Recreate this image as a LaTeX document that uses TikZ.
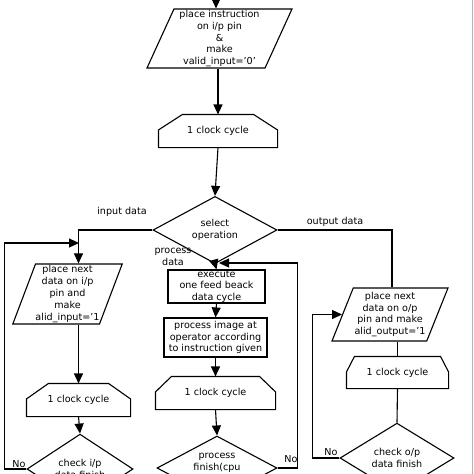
\documentclass[tikz,border=0pt]{standalone}
\usepackage{fontspec}
\setmainfont{DejaVu Sans}
\usetikzlibrary{shapes, arrows.meta}

\begin{document}
\begin{tikzpicture}[x=1pt, y=-1pt, line width=1.1pt,
  >={Triangle[length=10pt, width=9pt]},
  every node/.style={font=\fontsize{9.6}{11.8}\selectfont, align=center, inner sep=0pt},
  iobox/.style={draw, trapezium, trapezium stretches body},
  cyclebox/.style={rectangle},
  choice/.style={draw, diamond},
  procbox/.style={draw, rectangle}]

\useasboundingbox (0,0) rectangle (474,474);
\clip (0,0) rectangle (474,474);

% main column
\node[iobox, trapezium left angle=64.6, trapezium right angle=115.4,
  minimum width=145, minimum height=59] (par0) at (219.5,38.5)
  {place instruction\\on i/p pin\\\&\\make\\valid\_input='0'};
\node[cyclebox, minimum width=118, minimum height=32] (hex0) at (218,131) {1 clock cycle};
\node[choice, minimum width=124, minimum height=54] (sel) at (215,230) {select\\operation};

% input data branch
\node[iobox, trapezium left angle=68.2, trapezium right angle=111.8,
  minimum width=109, minimum height=60] (par1) at (67.5,294)
  {place next\\data on i/p\\pin and\\make\\alid\_input='1};
\node[cyclebox, minimum width=103, minimum height=32] (hex1) at (78.5,400) {1 clock cycle};
\node[choice, minimum width=106, minimum height=64] (fin1) at (80,469) {check i/p\\data finish};

% process data branch
\node[procbox, minimum width=97, minimum height=33] (exe) at (216.5,286.5)
  {execute\\one feed beack\\data cycle};
\node[procbox, minimum width=103, minimum height=39] (proc) at (215.5,337.5)
  {process image at\\operator according\\to instruction given};
\node[cyclebox, minimum width=119, minimum height=32] (hex2) at (215.5,393) {1 clock cycle};
\node[choice, minimum width=120, minimum height=64] (fin2) at (217,468) {};
\node (fin2txt) at ([yshift=5.5pt]fin2.center) {process\\finish(cpu};

% output data branch
\node[iobox, trapezium left angle=64.7, trapezium right angle=115.3,
  minimum width=116, minimum height=53] (par3) at (390,314.5)
  {place next\\data on o/p\\pin and make\\alid\_output='1};
\node[cyclebox, minimum width=101, minimum height=31] (hex3) at (397.5,372.5) {1 clock cycle};
\node[choice, minimum width=114, minimum height=64] (fin3) at (397,458) {check o/p\\data finish};

% clock cycle outlines
\foreach \h/\c in {hex0/24, hex1/22, hex2/16, hex3/8} {
\draw (\h.south west) -- ([yshift=-15.5pt]\h.north west) -- ([xshift=\c pt]\h.north west)
  -- ([xshift=-\c pt]\h.north east) -- ([yshift=-15.5pt]\h.north east) -- (\h.south east) -- cycle;
}

% labels
\node (lin) at (122,212) {input data};
\node (lout) at (335,222) {output data};
\node (lproc) at (173,256.5) {process\\data};
\node (no1) at (19,464) {No};
\node (no2) at (291,459) {No};
\node (no3) at (331,452) {No};

\coordinate (entry) at (216,-3);
\coordinate (j1) at (79,243);
\coordinate (j2) at (219,263);

\draw[->] (entry) -- (entry |- par0.north);
\draw[->] (hex0.north |- par0.south) -- (hex0.north);
\draw[->] (hex0.south) -- (sel.north);

\draw[->] (sel.west) -| (hex1.north |- par1.north);
\draw[->] (hex1.north |- par1.south) -- (hex1.north);
\draw[->] (hex1.south) -- (fin1.north);
\draw[->] (fin1.west) -- ++(-22,0) |- (j1);

\draw[->] (sel.south) -- (exe.north);
\draw[->] (exe.south) -- (proc.north);
\draw[->] (proc.south) -- (hex2.north);
\draw[->] (hex2.south) -- (fin2.north);
\draw[->] (fin2.east) -- ++(20,0) |- (j2);

\draw (sel.east) -| ([xshift=2pt]par3.north);
\draw (hex3.north |- par3.south) -- (hex3.north);
\draw (hex3.south) -- (fin3.north);
\draw[->] (fin3.west) -- ++(-27,0) |- (par3.west);

% page edge
\draw[gray!60, line width=1pt] (472.5,0) -- (472.5,474);

\end{tikzpicture}
\end{document}
